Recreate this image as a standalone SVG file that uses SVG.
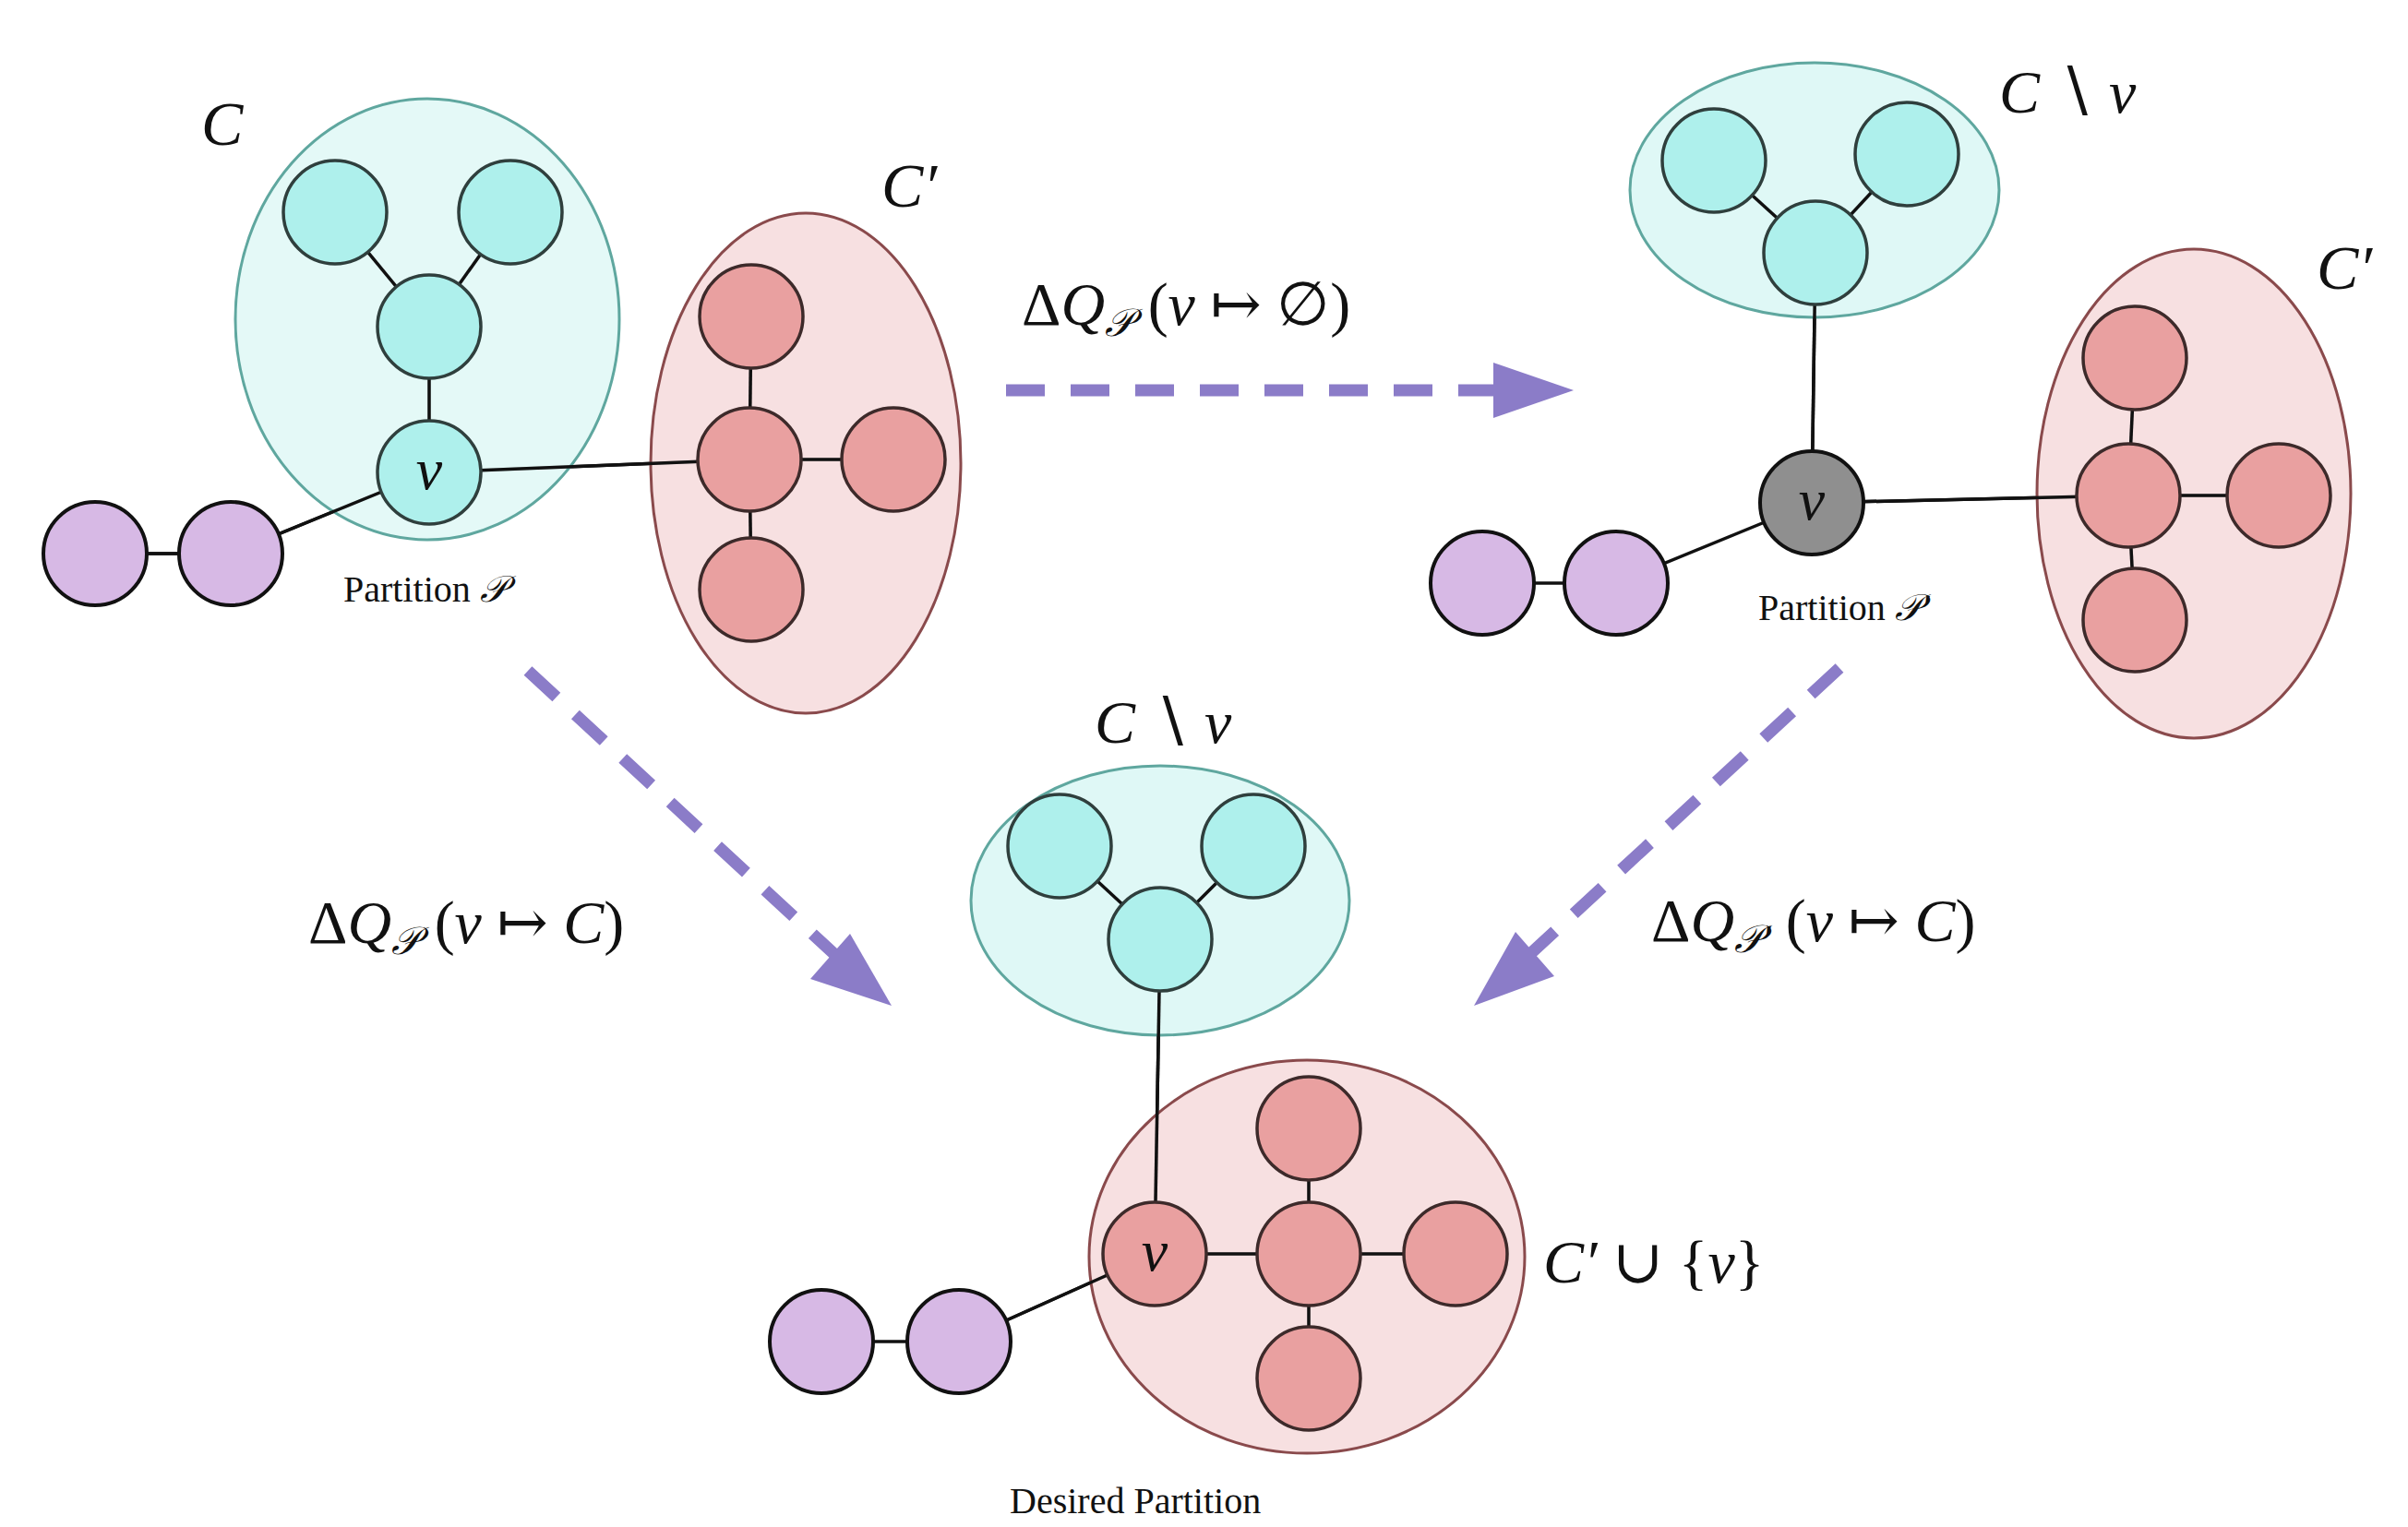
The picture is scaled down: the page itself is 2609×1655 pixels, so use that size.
<svg xmlns="http://www.w3.org/2000/svg" width="2609" height="1655" viewBox="0 0 2609 1655">
<defs>
<style>
.cg{fill:#dff8f6;stroke:#5fa79f;stroke-width:3}
.pg{fill:#f6dadc;stroke:#8a4a4c;stroke-width:3}
.cn{fill:#aef0ec;stroke:#2f3f3d;stroke-width:3.5}
.pn{fill:#e9a0a0;stroke:#3d2a2a;stroke-width:3.5}
.un{fill:#d7b9e5;stroke:#111;stroke-width:4}
.gn{fill:#8f8f8f;stroke:#111;stroke-width:4}
.e{stroke:#111;stroke-width:3.5;fill:none}
.ar{stroke:#8b7cc8;stroke-width:13;stroke-dasharray:42 28;fill:none}
.m{font-family:"Liberation Serif","DejaVu Serif",serif;fill:#111}
.lab{font-family:"Liberation Serif",serif;font-size:40px;fill:#111}
</style>
<marker id="ah" viewBox="0 0 10 10" refX="9" refY="5" markerWidth="7" markerHeight="7" markerUnits="userSpaceOnUse" orient="auto"><path d="M0,0 L10,5 L0,10 z" fill="#8b7cc8"/></marker>
</defs>

<g id="connectors">
<!-- top-left -->
<line class="e" x1="250" y1="600" x2="103" y2="600"/>
<line class="e" x1="250" y1="600" x2="465" y2="512"/>
<line class="e" x1="465" y1="512" x2="812" y2="498"/>
<line class="e" x1="465" y1="512" x2="465" y2="354"/>
<line class="e" x1="465" y1="354" x2="363" y2="230"/>
<line class="e" x1="465" y1="354" x2="553" y2="230"/>
<line class="e" x1="812" y1="498" x2="814" y2="343"/>
<line class="e" x1="812" y1="498" x2="968" y2="498"/>
<line class="e" x1="812" y1="498" x2="814" y2="639"/>
<!-- top-right -->
<line class="e" x1="1606" y1="632" x2="1751" y2="632"/>
<line class="e" x1="1751" y1="632" x2="1963" y2="545"/>
<line class="e" x1="1963" y1="545" x2="1967" y2="274"/>
<line class="e" x1="1967" y1="274" x2="1857" y2="174"/>
<line class="e" x1="1967" y1="274" x2="2066" y2="167"/>
<line class="e" x1="1963" y1="545" x2="2306" y2="537"/>
<line class="e" x1="2306" y1="537" x2="2313" y2="388"/>
<line class="e" x1="2306" y1="537" x2="2469" y2="537"/>
<line class="e" x1="2306" y1="537" x2="2313" y2="672"/>
<!-- bottom -->
<line class="e" x1="890" y1="1454" x2="1039" y2="1454"/>
<line class="e" x1="1039" y1="1454" x2="1251" y2="1359"/>
<line class="e" x1="1251" y1="1359" x2="1257" y2="1018"/>
<line class="e" x1="1257" y1="1018" x2="1148" y2="917"/>
<line class="e" x1="1257" y1="1018" x2="1358" y2="917"/>
<line class="e" x1="1251" y1="1359" x2="1418" y2="1359"/>
<line class="e" x1="1418" y1="1359" x2="1418" y2="1223"/>
<line class="e" x1="1418" y1="1359" x2="1577" y2="1359"/>
<line class="e" x1="1418" y1="1359" x2="1418" y2="1494"/>
<!-- dashed arrows -->
<line class="ar" x1="1090" y1="423" x2="1625" y2="423"/>
<path d="M1618,393 L1705,423 L1618,453 z" fill="#8b7cc8"/>
<line class="ar" x1="572" y1="727" x2="905" y2="1035"/>
<path d="M878,1061 L966,1090 L921,1012 z" fill="#8b7cc8"/>
<line class="ar" x1="1993" y1="724" x2="1660" y2="1032"/>
<path d="M1642,1010 L1597,1090 L1684,1058 z" fill="#8b7cc8"/>
</g>

<g id="groups">
<ellipse class="cg" cx="463" cy="346" rx="208" ry="239" style="fill-opacity:0.85"/>
<ellipse class="pg" cx="873" cy="502" rx="168" ry="271" style="fill-opacity:0.85"/>
<ellipse class="cg" cx="1966" cy="206" rx="200" ry="138"/>
<ellipse class="pg" cx="2377" cy="535" rx="170" ry="265" style="fill-opacity:0.85"/>
<ellipse class="cg" cx="1257" cy="976" rx="205" ry="146"/>
<ellipse class="pg" cx="1416" cy="1362" rx="236" ry="213" style="fill-opacity:0.85"/>
</g>
<!-- redraw edges over group fills -->
<g id="edges-over">
<line class="e" x1="250" y1="600" x2="103" y2="600"/>
<line class="e" x1="250" y1="600" x2="465" y2="512"/>
<line class="e" x1="465" y1="512" x2="812" y2="498"/>
<line class="e" x1="465" y1="512" x2="465" y2="354"/>
<line class="e" x1="465" y1="354" x2="363" y2="230"/>
<line class="e" x1="465" y1="354" x2="553" y2="230"/>
<line class="e" x1="812" y1="498" x2="814" y2="343"/>
<line class="e" x1="812" y1="498" x2="968" y2="498"/>
<line class="e" x1="812" y1="498" x2="814" y2="639"/>
<line class="e" x1="1963" y1="545" x2="1967" y2="274"/>
<line class="e" x1="1967" y1="274" x2="1857" y2="174"/>
<line class="e" x1="1967" y1="274" x2="2066" y2="167"/>
<line class="e" x1="1963" y1="545" x2="2306" y2="537"/>
<line class="e" x1="2306" y1="537" x2="2313" y2="388"/>
<line class="e" x1="2306" y1="537" x2="2469" y2="537"/>
<line class="e" x1="2306" y1="537" x2="2313" y2="672"/>
<line class="e" x1="1039" y1="1454" x2="1251" y2="1359"/>
<line class="e" x1="1251" y1="1359" x2="1257" y2="1018"/>
<line class="e" x1="1257" y1="1018" x2="1148" y2="917"/>
<line class="e" x1="1257" y1="1018" x2="1358" y2="917"/>
<line class="e" x1="1251" y1="1359" x2="1418" y2="1359"/>
<line class="e" x1="1418" y1="1359" x2="1418" y2="1223"/>
<line class="e" x1="1418" y1="1359" x2="1577" y2="1359"/>
<line class="e" x1="1418" y1="1359" x2="1418" y2="1494"/>
</g>

<g id="tl-nodes">
<circle class="cn" cx="363" cy="230" r="56"/>
<circle class="cn" cx="553" cy="230" r="56"/>
<circle class="cn" cx="465" cy="354" r="56"/>
<g id="tl-v"><circle class="cn" cx="465" cy="512" r="56"/><text class="m" x="465" y="530" font-size="64" font-style="italic" text-anchor="middle" fill="#333">v</text></g>
<circle class="pn" cx="814" cy="343" r="56"/>
<circle class="pn" cx="812" cy="498" r="56"/>
<circle class="pn" cx="968" cy="498" r="56"/>
<circle class="pn" cx="814" cy="639" r="56"/>
<circle class="un" cx="103" cy="600" r="56"/>
<circle class="un" cx="250" cy="600" r="56"/>
</g>

<g id="tr-nodes">
<circle class="cn" cx="1857" cy="174" r="56"/>
<circle class="cn" cx="2066" cy="167" r="56"/>
<circle class="cn" cx="1967" cy="274" r="56"/>
<g id="tr-v"><circle class="gn" cx="1963" cy="545" r="56"/><text class="m" x="1963" y="563" font-size="64" font-style="italic" text-anchor="middle">v</text></g>
<circle class="pn" cx="2313" cy="388" r="56"/>
<circle class="pn" cx="2306" cy="537" r="56"/>
<circle class="pn" cx="2469" cy="537" r="56"/>
<circle class="pn" cx="2313" cy="672" r="56"/>
<circle class="un" cx="1606" cy="632" r="56"/>
<circle class="un" cx="1751" cy="632" r="56"/>
</g>

<g id="b-nodes">
<circle class="cn" cx="1148" cy="917" r="56"/>
<circle class="cn" cx="1358" cy="917" r="56"/>
<circle class="cn" cx="1257" cy="1018" r="56"/>
<g id="b-v"><circle class="pn" cx="1251" cy="1359" r="56"/><text class="m" x="1251" y="1377" font-size="64" font-style="italic" text-anchor="middle" fill="#333">v</text></g>
<circle class="pn" cx="1418" cy="1223" r="56"/>
<circle class="pn" cx="1418" cy="1359" r="56"/>
<circle class="pn" cx="1577" cy="1359" r="56"/>
<circle class="pn" cx="1418" cy="1494" r="56"/>
<circle class="un" cx="890" cy="1454" r="56"/>
<circle class="un" cx="1039" cy="1454" r="56"/>
</g>

<g id="labels">
<text class="m" x="218" y="157" font-size="68" font-style="italic">C</text>
<text class="m" x="955" y="224" font-size="68" font-style="italic">C′</text>
<text class="m" x="2166" y="122" font-size="66"><tspan font-style="italic">C</tspan> ∖ <tspan font-style="italic">v</tspan></text>
<text class="m" x="2510" y="313" font-size="68" font-style="italic">C′</text>
<text class="m" x="1186" y="805" font-size="66"><tspan font-style="italic">C</tspan> ∖ <tspan font-style="italic">v</tspan></text>
<text class="m" x="1672" y="1390" font-size="66"><tspan font-style="italic">C′</tspan> ∪ {<tspan font-style="italic">v</tspan>}</text>
<text class="lab" x="372" y="652">Partition <tspan font-style="italic">𝒫</tspan></text>
<text class="lab" x="1905" y="672">Partition <tspan font-style="italic">𝒫′</tspan></text>
<text class="lab" x="1094" y="1640">Desired Partition</text>
<text class="m" x="1107" y="352" font-size="66">Δ<tspan font-style="italic">Q</tspan><tspan font-size="42" dy="12" font-style="italic">𝒫</tspan><tspan dy="-12"> (</tspan><tspan font-style="italic">v</tspan> ↦ ∅)</text>
<text class="m" x="334" y="1022" font-size="66">Δ<tspan font-style="italic">Q</tspan><tspan font-size="42" dy="12" font-style="italic">𝒫</tspan><tspan dy="-12"> (</tspan><tspan font-style="italic">v</tspan> ↦ <tspan font-style="italic">C</tspan>)</text>
<text class="m" x="1789" y="1020" font-size="66">Δ<tspan font-style="italic">Q</tspan><tspan font-size="42" dy="12" font-style="italic">𝒫′</tspan><tspan dy="-12"> (</tspan><tspan font-style="italic">v</tspan> ↦ <tspan font-style="italic">C</tspan>)</text>
</g>
</svg>
